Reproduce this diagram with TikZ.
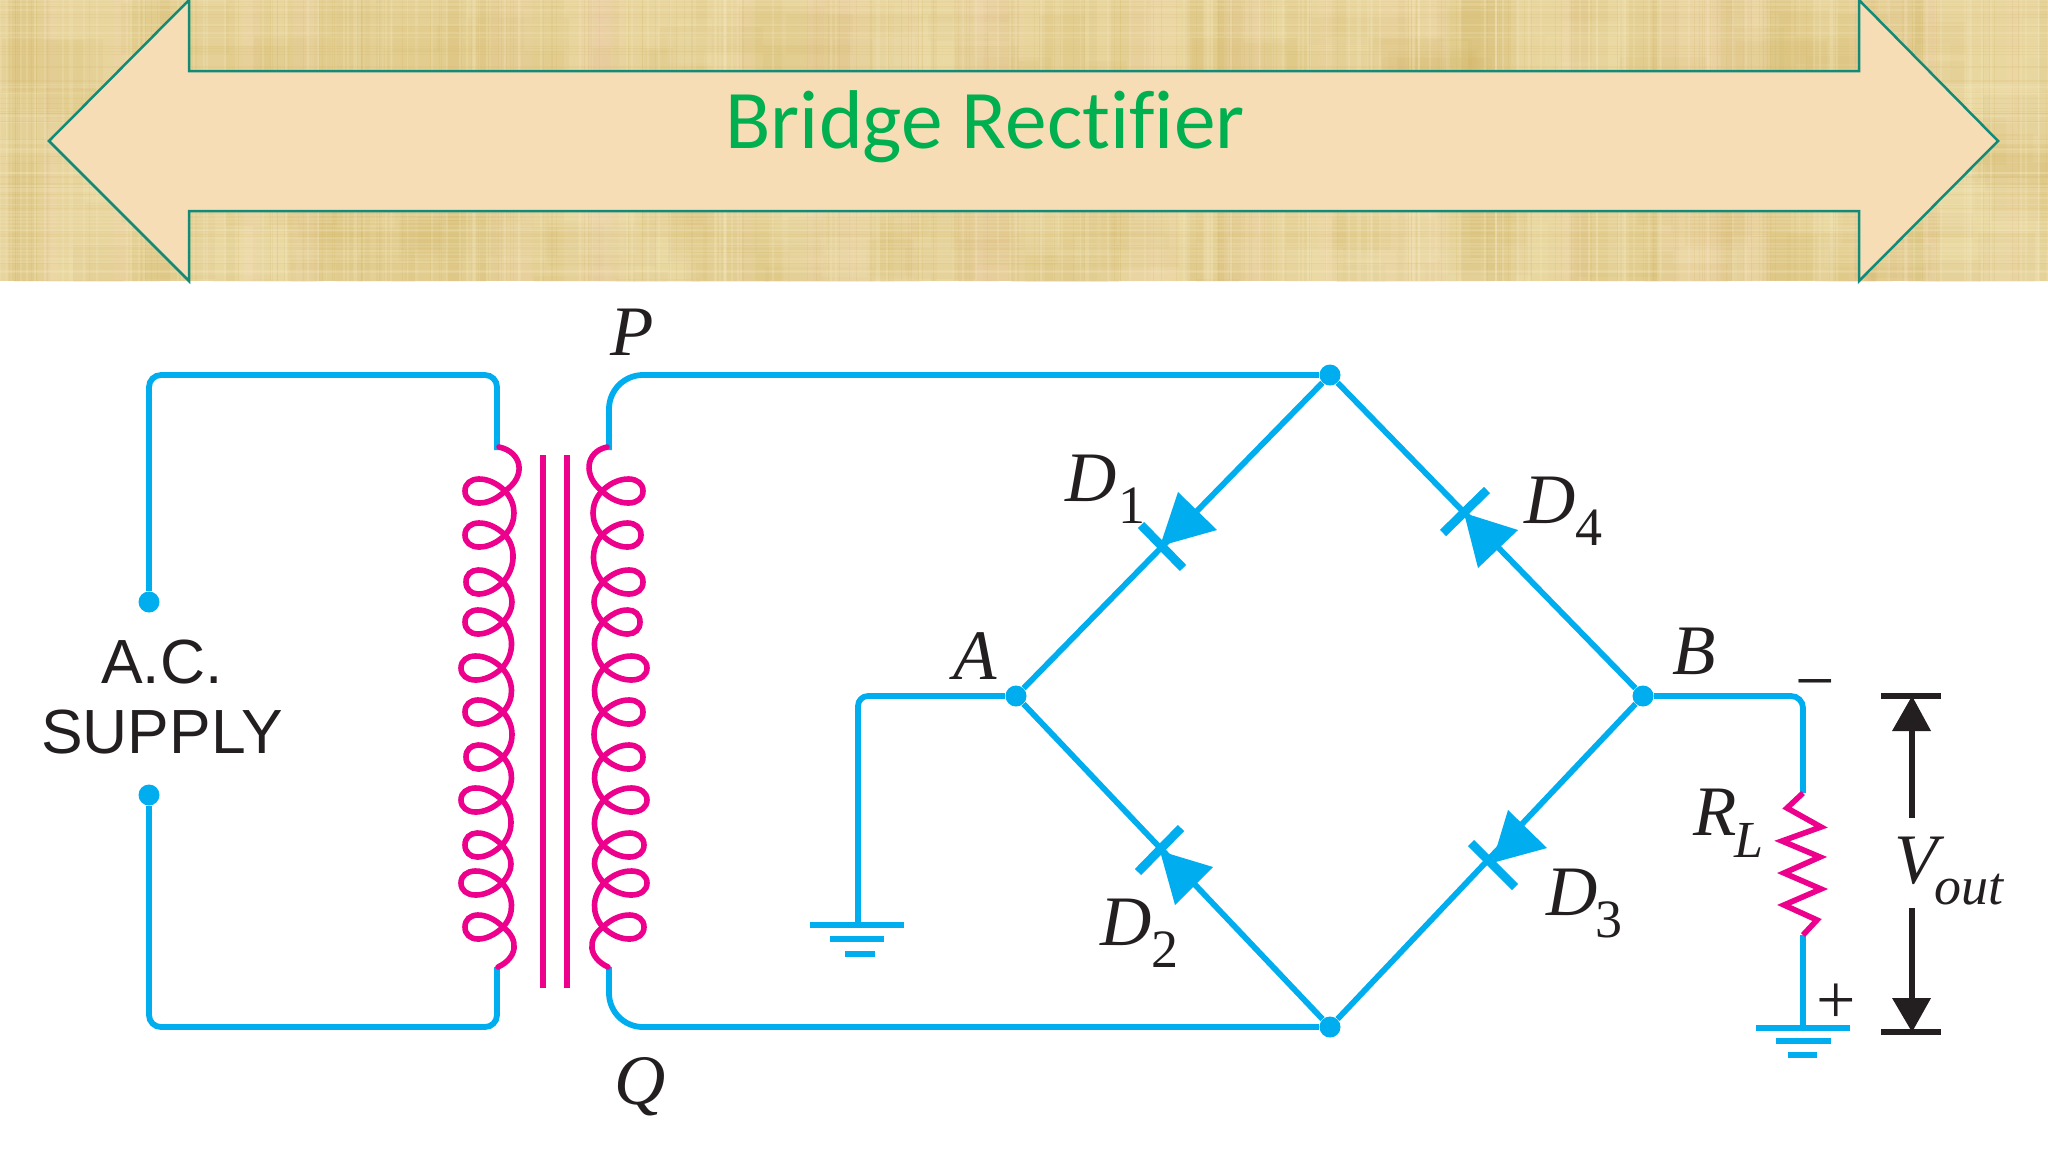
\documentclass[tikz,border=0pt]{standalone}
\usepackage{fontspec}
\setmainfont{Liberation Serif}
\newfontfamily\titlefont[Ligatures=NoCommon]{Carlito}
\newfontfamily\supplyfont{Liberation Sans}
\definecolor{wireblue}{HTML}{00AEEF}
\definecolor{coilpink}{HTML}{EC008C}
\definecolor{inkblack}{HTML}{231F20}
\definecolor{paperbase}{HTML}{E8D59D}
\definecolor{paperdark}{HTML}{D2B564}
\definecolor{paperpink}{HTML}{F0D3B0}
\definecolor{paperlight}{HTML}{F6EBC4}
\definecolor{arrowfill}{HTML}{F7DDB5}
\definecolor{arrowline}{HTML}{138A78}
\definecolor{titlegreen}{HTML}{00B050}
\newcommand\mainsize{\fontsize{35.5}{36}\selectfont}
\newcommand\subsize{\fontsize{27}{28}\selectfont}
\newcommand\sublab[3]{\mainsize\itshape #1\hspace{#3}\raisebox{-11pt}{\subsize\upshape #2}}
\tikzset{
  wire/.style={draw=wireblue,line width=2.9pt},
  bluebar/.style={draw=wireblue,line width=4.4pt},
  groundbar/.style={draw=wireblue,line width=2.8pt},
  coilwire/.style={draw=coilpink,line width=2.8pt,line cap=round},
  corebar/.style={draw=coilpink,line width=3pt},
  dotnode/.style={circle,fill=wireblue,inner sep=0pt,minimum size=10.5pt},
  diodehead/.style={fill=wireblue,draw=none},
  blackbar/.style={draw=inkblack,line width=3pt},
  blackline/.style={draw=inkblack,line width=2.8pt},
  lab/.style={inner sep=0pt,anchor=base west,text=inkblack},
}
\begin{document}
\begin{tikzpicture}[x=0.5pt,y=-0.5pt]
\useasboundingbox (0,0) rectangle (2048,1152);
\fill[white] (0,0) rectangle (2048,1152);
% textured banner
\begin{scope}
\clip (0,0) rectangle (2048,281);
\fill[paperbase] (0,0) rectangle (2048,281);
\pgfmathsetseed{4242}
\foreach \i in {1,...,70}{
  \pgfmathsetmacro\xa{random(0,2048)}
  \pgfmathsetmacro\wd{random(6,40)}
  \fill[paperdark,opacity=0.15] (\xa,0) rectangle (\xa+\wd,281);
}
\foreach \i in {1,...,35}{
  \pgfmathsetmacro\xa{random(0,2048)}
  \pgfmathsetmacro\wd{random(10,50)}
  \fill[paperpink,opacity=0.25] (\xa,0) rectangle (\xa+\wd,281);
}
\foreach \i in {1,...,160}{
  \pgfmathsetmacro\xa{random(0,2048)}
  \pgfmathsetmacro\ya{random(0,281)}
  \pgfmathsetmacro\wd{random(25,110)}
  \pgfmathsetmacro\ht{random(25,90)}
  \fill[paperdark,opacity=0.10] (\xa,\ya) rectangle (\xa+\wd,\ya+\ht);
}
\foreach \i in {1,...,120}{
  \pgfmathsetmacro\xa{random(0,2048)}
  \pgfmathsetmacro\ya{random(0,281)}
  \pgfmathsetmacro\wd{random(25,110)}
  \pgfmathsetmacro\ht{random(25,90)}
  \fill[paperlight,opacity=0.10] (\xa,\ya) rectangle (\xa+\wd,\ya+\ht);
}
\foreach \i in {1,...,160}{
  \pgfmathsetmacro\xa{random(0,2048)}
  \draw[paperlight,opacity=0.22,line width=0.7pt] (\xa,0) -- (\xa,281);
}
\foreach \i in {1,...,160}{
  \pgfmathsetmacro\xa{random(0,2048)}
  \draw[paperdark,opacity=0.18,line width=0.5pt] (\xa,0) -- (\xa,281);
}
\foreach \i in {1,...,40}{
  \pgfmathsetmacro\ya{random(0,281)}
  \draw[paperlight,opacity=0.2,line width=0.6pt] (0,\ya) -- (2048,\ya);
}
\foreach \i in {1,...,40}{
  \pgfmathsetmacro\ya{random(0,281)}
  \draw[paperdark,opacity=0.15,line width=0.5pt] (0,\ya) -- (2048,\ya);
}
\end{scope}
% double arrow
\draw[fill=arrowfill,draw=arrowline,line width=1.25pt,line join=miter]
  (49,141) -- (189,0) -- (189,71) -- (1859,71) -- (1859,0) -- (1998,141)
  -- (1859,281) -- (1859,211) -- (189,211) -- (189,281) -- cycle;
\node[inner sep=0pt,text=titlegreen] (title) at (985,127) {\titlefont\fontsize{41.7}{44}\selectfont Bridge Rectifier};

% junctions
\node[dotnode] (P) at (1330,375) {};
\node[dotnode] (Q) at (1330,1027) {};
\node[dotnode] (A) at (1016,696) {};
\node[dotnode] (B) at (1643,696) {};
\node[dotnode] (acT) at (149,602) {};
\node[dotnode] (acB) at (149,795) {};
\coordinate (pT) at (497,450);
\coordinate (pB) at (497,967);
\coordinate (sT) at (609,450);
\coordinate (sB) at (609,967);
\coordinate (gA) at (858,925);
\coordinate (gR) at (1803,1028);
\coordinate (rT) at (1803,793);
\coordinate (rB) at (1803,935);

% primary and secondary wires
\draw[wire,rounded corners=6pt] (acT) -- (149,375) -- (497,375) -- (pT);
\draw[wire,rounded corners=6pt] (acB) -- (149,1027) -- (497,1027) -- (pB);
\draw[wire,rounded corners=17pt] (sT) |- (P);
\draw[wire,rounded corners=17pt] (sB) |- (Q);
\draw[wire] (P) -- (A);
\draw[wire] (P) -- (B);
\draw[wire] (Q) -- (A);
\draw[wire] (Q) -- (B);
\draw[wire,rounded corners=5pt] (A) -| (gA);
\draw[wire,rounded corners=6pt] (B) -| (rT);
\draw[wire] (rB) -- (gR);

% grounds
\draw[groundbar] (810,925) -- (904,925);
\draw[groundbar] (830,939) -- (884,939);
\draw[groundbar] (845,954) -- (875,954);
\draw[groundbar] (1756,1028) -- (1850,1028);
\draw[groundbar] (1776,1041) -- (1831,1041);
\draw[groundbar] (1788,1055) -- (1817,1055);

% diodes
\fill[diodehead] (1160,546) -- (1178,492) -- (1217,530) -- cycle;
\draw[bluebar] (1141,525) -- (1183,568);
\fill[diodehead] (1464,513) -- (1518,530) -- (1478,568) -- cycle;
\draw[bluebar] (1443,533) -- (1487,490);
\fill[diodehead] (1160,851) -- (1213,867) -- (1175,905) -- cycle;
\draw[bluebar] (1138,872) -- (1181,828);
\fill[diodehead] (1492,863) -- (1508,810) -- (1547,848) -- cycle;
\draw[bluebar] (1471,843) -- (1515,887);

% core
\draw[corebar] (543,455) -- (543,988);
\draw[corebar] (567,455) -- (567,988);

% left coil
\draw[coilwire] (499,447) .. controls (522,452) and (527,476) .. (505,491);
\foreach \cy/\cx/\lx/\ny/\nx in {
 491/505/465/535/505, 535/505/465/582/503, 582/503/466/622/503,
 622/503/465/668/502, 668/502/461/712/503, 712/503/465/757/503,
 757/503/466/800/502, 800/502/461/845/502, 845/502/465/883/502,
 883/502/461/927/503}{
  \draw[coilwire] (\cx,\cy) .. controls (\cx-17,\cy+17) and (\lx,\cy+15) .. (\lx,\cy)
     .. controls (\lx,\cy-15) and (\cx-17,\cy-17) .. (\cx,\cy)
     .. controls (\cx+12,\cy+13) and (\nx+12,\ny-13) .. (\nx,\ny);
}
\draw[coilwire] (503,927) .. controls (486,944) and (465,942) .. (465,927)
   .. controls (465,912) and (486,910) .. (503,927)
   .. controls (520,940) and (517,958) .. (498,967);

% right coil
\draw[coilwire] (607,447) .. controls (585,452) and (583,476) .. (602,491);
\foreach \cy/\cx/\rx/\ny/\nx in {
 491/602/643/535/602, 535/602/641/582/603, 582/603/643/622/603,
 622/603/640/668/604, 668/604/647/712/603, 712/603/643/757/603,
 757/603/643/800/604, 800/604/647/845/603, 845/603/644/883/604,
 883/604/647/927/603}{
  \draw[coilwire] (\cx,\cy) .. controls (\cx+17,\cy+17) and (\rx,\cy+15) .. (\rx,\cy)
     .. controls (\rx,\cy-15) and (\cx+17,\cy-17) .. (\cx,\cy)
     .. controls (\cx-12,\cy+13) and (\nx-12,\ny-13) .. (\nx,\ny);
}
\draw[coilwire] (603,927) .. controls (620,944) and (644,942) .. (644,927)
   .. controls (644,912) and (620,910) .. (603,927)
   .. controls (586,940) and (589,958) .. (608,967);

% load resistor
\draw[draw=coilpink,line width=2.8pt,line join=miter]
  (rT) -- (1787,808) -- (1821,827) -- (1782,841) -- (1820,857) -- (1784,873)
  -- (1821,889) -- (1784,905) -- (1817,920) -- (rB);

% output arrow
\coordinate (vT) at (1912,696);
\coordinate (vB) at (1912,1032);
\draw[blackbar] (1881,696) -- (1941,696);
\draw[blackbar] (1881,1032) -- (1941,1032);
\fill[inkblack] (vT) -- (1931,731) -- (1892,731) -- cycle;
\fill[inkblack] (vB) -- (1931,998) -- (1892,998) -- cycle;
\draw[blackline] (1912,731) -- (1912,818);
\draw[blackline] (1912,908) -- (1912,998);

% labels
\node[lab] (lD1) at (1065,501) {\sublab{D}{1}{1pt}};
\node[lab] (lD2) at (1100,945) {\sublab{D}{2}{0pt}};
\node[lab] (lD3) at (1546,915) {\sublab{D}{3}{-1pt}};
\node[lab] (lD4) at (1524,523) {\sublab{D}{4}{0pt}};
\node[lab] (lA) at (953,679) {\mainsize\itshape A};
\node[lab] (lB) at (1672,674) {\mainsize\itshape B};
\node[lab] (lP) at (610,355) {\mainsize\itshape P};
\node[lab] (lQ) at (614,1104) {\mainsize\itshape Q};
\node[lab] (lR) at (1693,835) {\mainsize\itshape R\hspace{-1pt}\raisebox{-11pt}{\fontsize{26}{27}\selectfont L}};
\node[lab] (lV) at (1894,883) {\mainsize\itshape V\hspace{-1.5pt}\raisebox{-10.5pt}{\fontsize{27}{28}\selectfont out}};
\node[lab,anchor=center] (lminus) at (1815,692) {\fontsize{35}{36}\selectfont −};
\node[lab,anchor=center] (lplus) at (1836,1004) {\fontsize{35}{36}\selectfont +};
\node[inner sep=0pt,align=center,text=inkblack,anchor=center,font=\supplyfont\fontsize{31.2}{35}\selectfont] (ac) at (162,697)
  {A.C.\\SUPPLY};
\end{tikzpicture}
\end{document}
